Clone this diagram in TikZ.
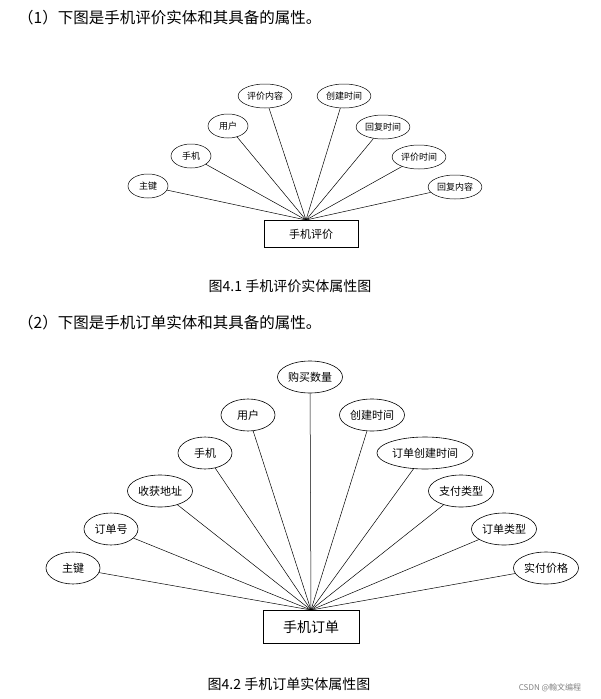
\documentclass[tikz,border=0pt]{standalone}
\usepackage{fontspec}
\setmainfont{Noto Sans CJK SC}
\usetikzlibrary{shapes.geometric}
\begin{document}
\begin{tikzpicture}[x=1pt,y=-1pt,
  attA/.style={ellipse,draw,line width=0.5pt,minimum width=40pt,minimum height=24pt,inner sep=1pt,font=\fontsize{9}{10}\selectfont},
  attB/.style={ellipse,draw,line width=0.6pt,minimum width=54pt,minimum height=32pt,inner sep=1pt,font=\fontsize{11}{13}\selectfont},
  entA/.style={draw,line width=0.5pt,minimum width=94pt,minimum height=27pt,font=\fontsize{11}{13}\selectfont},
  entB/.style={draw,line width=0.6pt,minimum width=96pt,minimum height=33pt,font=\fontsize{14}{16}\selectfont},
  link/.style={line width=0.5pt},
  txt/.style={anchor=west,font=\fontsize{15.5}{18}\selectfont,inner sep=0pt},
  captxt/.style={font=\fontsize{14}{16}\selectfont,inner sep=0pt}]
\useasboundingbox (0,0) rectangle (600,699);
\node[txt] (h1) at (18,18) {（1）下图是手机评价实体和其具备的属性。};
\node[entA] (E1) at (311,234) {手机评价};
\coordinate (c1) at (306,220);
\node[attA] (a1) at (148,186) {主键};
\node[attA] (a2) at (191,156) {手机};
\node[attA] (a3) at (228,126) {用户};
\node[attA,minimum width=46pt] (a4) at (265,96) {评价内容};
\node[attA,minimum width=46pt] (a5) at (344,96) {创建时间};
\node[attA,minimum width=46pt] (a6) at (383,127) {回复时间};
\node[attA,minimum width=46pt] (a7) at (419,157) {评价时间};
\node[attA,minimum width=46pt] (a8) at (455,187) {回复内容};
\foreach \n in {a1,a2,a3,a4,a5,a6,a7,a8} \draw[link] (\n) -- (c1);
\node[captxt] (cap1) at (290,286) {图4.1 手机评价实体属性图};

\node[txt] (h2) at (18,323) {（2）下图是手机订单实体和其具备的属性。};
\node[entB] (E2) at (311,627) {手机订单};
\coordinate (c2) at (311,610);
\node[attB] (b1) at (73,568) {主键};
\node[attB] (b2) at (111,529) {订单号};
\node[attB,minimum width=56pt] (b3) at (160,491) {收获地址};
\node[attB] (b4) at (205,453) {手机};
\node[attB] (b5) at (248,415) {用户};
\node[attB,minimum width=58pt] (b6) at (310,377) {购买数量};
\node[attB,minimum width=58pt] (b7) at (372,415) {创建时间};
\node[attB,minimum width=74pt] (b8) at (425,453) {订单创建时间};
\node[attB,minimum width=56pt] (b9) at (461,491) {支付类型};
\node[attB,minimum width=56pt] (b10) at (504,529) {订单类型};
\node[attB,minimum width=56pt] (b11) at (546,568) {实付价格};
\foreach \n in {b1,b2,b3,b4,b5,b6,b7,b8,b9,b10,b11} \draw[link] (\n) -- (c2);
\node[captxt] (cap2) at (289,684) {图4.2 手机订单实体属性图};
\node[font=\fontsize{8}{9}\selectfont,text=gray,inner sep=0pt] (wm) at (550,688) {CSDN @翰文编程};
\end{tikzpicture}
\end{document}
